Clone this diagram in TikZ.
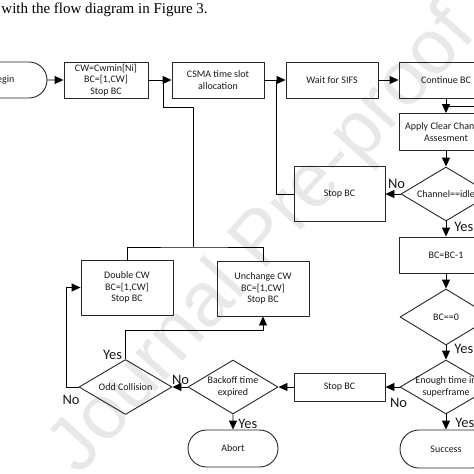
\documentclass[tikz,border=0pt]{standalone}
\usepackage{fontspec}
\setmainfont{Carlito}
\newfontfamily\capfont{Liberation Serif}
\newfontfamily\markfont{Liberation Sans}
\usetikzlibrary{shapes.geometric,shapes.misc,arrows.meta}
\begin{document}
\begin{tikzpicture}[x=1pt,y=-1pt,>={Triangle[length=9pt,width=8pt]}, line width=0.9pt, line join=round,
		block/.style={draw=black!85, rectangle, minimum width=92pt, minimum height=36pt, inner sep=1pt, align=center, font=\fontsize{10}{11.5}\selectfont, text=black!90},
		term/.style={block, rounded rectangle},
		decision/.style={block, diamond, aspect=1.7, inner sep=-4pt, minimum width=92pt, minimum height=55pt},
		lbl/.style={inner sep=0pt, font=\fontsize{14.5}{15}\selectfont, text=black!90}]
			\useasboundingbox (0,0) rectangle (474,474);
			\clip (0,0) rectangle (474,474);
			\node[font=\markfont\fontsize{77}{77}\selectfont, text=black!9, rotate=48] (mark) at (264,242) {Journal Pre-proof};
			\node[font=\capfont\fontsize{15}{15}\selectfont, anchor=base west, inner sep=0pt] (caption) at (1,13) {with the flow diagram in Figure 3.};
			% top row
			\node[term, minimum width=90pt] (begin) at (3,80) {Begin};
			\node[block, minimum width=84pt] (cw) at (106,80) {CW=Cwmin[Ni]\\BC=[1,CW]\\Stop BC};
			\node[block] (csma) at (218,80) {CSMA time slot\\allocation};
			\node[block] (sifs) at (332,80) {Wait for SIFS};
			\node[block, minimum width=94pt] (cont) at (446,80) {Continue BC};
			% right column
			\node[block, minimum width=94pt, minimum height=37pt] (cca) at (446,132) {Apply Clear Channel\\Assesment};
			\node[decision, minimum width=90pt, minimum height=54pt] (idle) at (446,194) {Channel==idle};
			\node[block, minimum width=91pt, minimum height=55pt] (stopa) at (339.5,194) {Stop BC};
			\node[block, minimum width=94pt] (dec) at (446,255) {BC=BC-1};
			\node[decision, minimum height=56pt] (zero) at (446,317) {BC==0};
			\node[decision, minimum height=54pt] (enough) at (446,387) {Enough time in\\superframe};
			\node[term, minimum width=94pt, minimum height=38pt] (succ) at (446,449) {Success};
			% bottom row
			\node[block, minimum width=91pt, minimum height=28pt] (stopb) at (339.5,387) {Stop BC};
			\node[decision, minimum width=90pt, minimum height=54pt] (backoff) at (233,387) {Backoff time\\expired};
			\node[term, minimum height=37pt] (abort) at (233,448.5) {Abort};
			\node[decision, minimum width=93pt, minimum height=55pt] (odd) at (125.5,387) {Odd Collision};
			\node[block, minimum height=55pt] (dbl) at (127,287.5) {Double CW\\BC=[1,CW]\\Stop BC};
			\node[block, minimum height=55pt] (unch) at (263,288.5) {Unchange CW\\BC=[1,CW]\\Stop BC};
			\coordinate (jcw) at (163,80);
			\coordinate (jsifs) at (276,80);
			\coordinate (jtop) at (193,247);
			\coordinate (jcca) at (446,106);
			% connectors
			\draw[->] (begin) -- (cw);
			\draw[->] (cw) -- (csma);
			\draw[->] (csma) -- (sifs);
			\draw[->] (sifs) -- (cont);
			\draw[->] (cont) -- (cca);
			\draw[->] (cca) -- (idle);
			\draw[->] (idle) -- (stopa);
			\draw (stopa.west) -| (jsifs);
			\draw[->] (idle) -- (dec);
			\draw[->] (dec) -- (zero);
			\draw[->] (zero) -- (enough);
			\draw (zero.east) -- ++(14,0) |- (jcca);
			\draw[->] (enough) -- (succ);
			\draw[->] (enough) -- (stopb);
			\draw[->] (stopb) -- (backoff);
			\draw[->] (backoff) -- (odd);
			\draw[->] (backoff) -- (abort);
			\draw[->] (odd.north) -- ++(0,-28.5) -| (unch.south);
			\draw[->] (odd.west) -- ++(-12,0) |- (dbl.west);
			\draw (dbl.north) |- (jtop) -| (unch.north);
			\draw (jtop) -- ++(0,-140) -| (jcw);
			% yes / no
			\node[lbl, anchor=base] (noidle) at ([shift={(-4,-6)}]idle.west) {No};
			\node[lbl, anchor=base west] (yesidle) at ([shift={(8,10)}]idle.south) {Yes};
			\node[lbl, anchor=base west] (yeszero) at ([shift={(8,8)}]zero.south) {Yes};
			\node[lbl, anchor=base] (noenough) at ([shift={(-1,20)}]enough.west) {No};
			\node[lbl, anchor=base west] (yesenough) at ([shift={(9,13)}]enough.south) {Yes};
			\node[lbl, anchor=base] (noback) at ([shift={(-7,-3)}]backoff.west) {No};
			\node[lbl, anchor=base west] (yesback) at ([shift={(5,14)}]backoff.south) {Yes};
			\node[lbl, anchor=base east] (yesodd) at ([shift={(-3,0)}]odd.north) {Yes};
			\node[lbl, anchor=base] (noodd) at ([shift={(-7.5,17.5)}]odd.west) {No};
\end{tikzpicture}
\end{document}
